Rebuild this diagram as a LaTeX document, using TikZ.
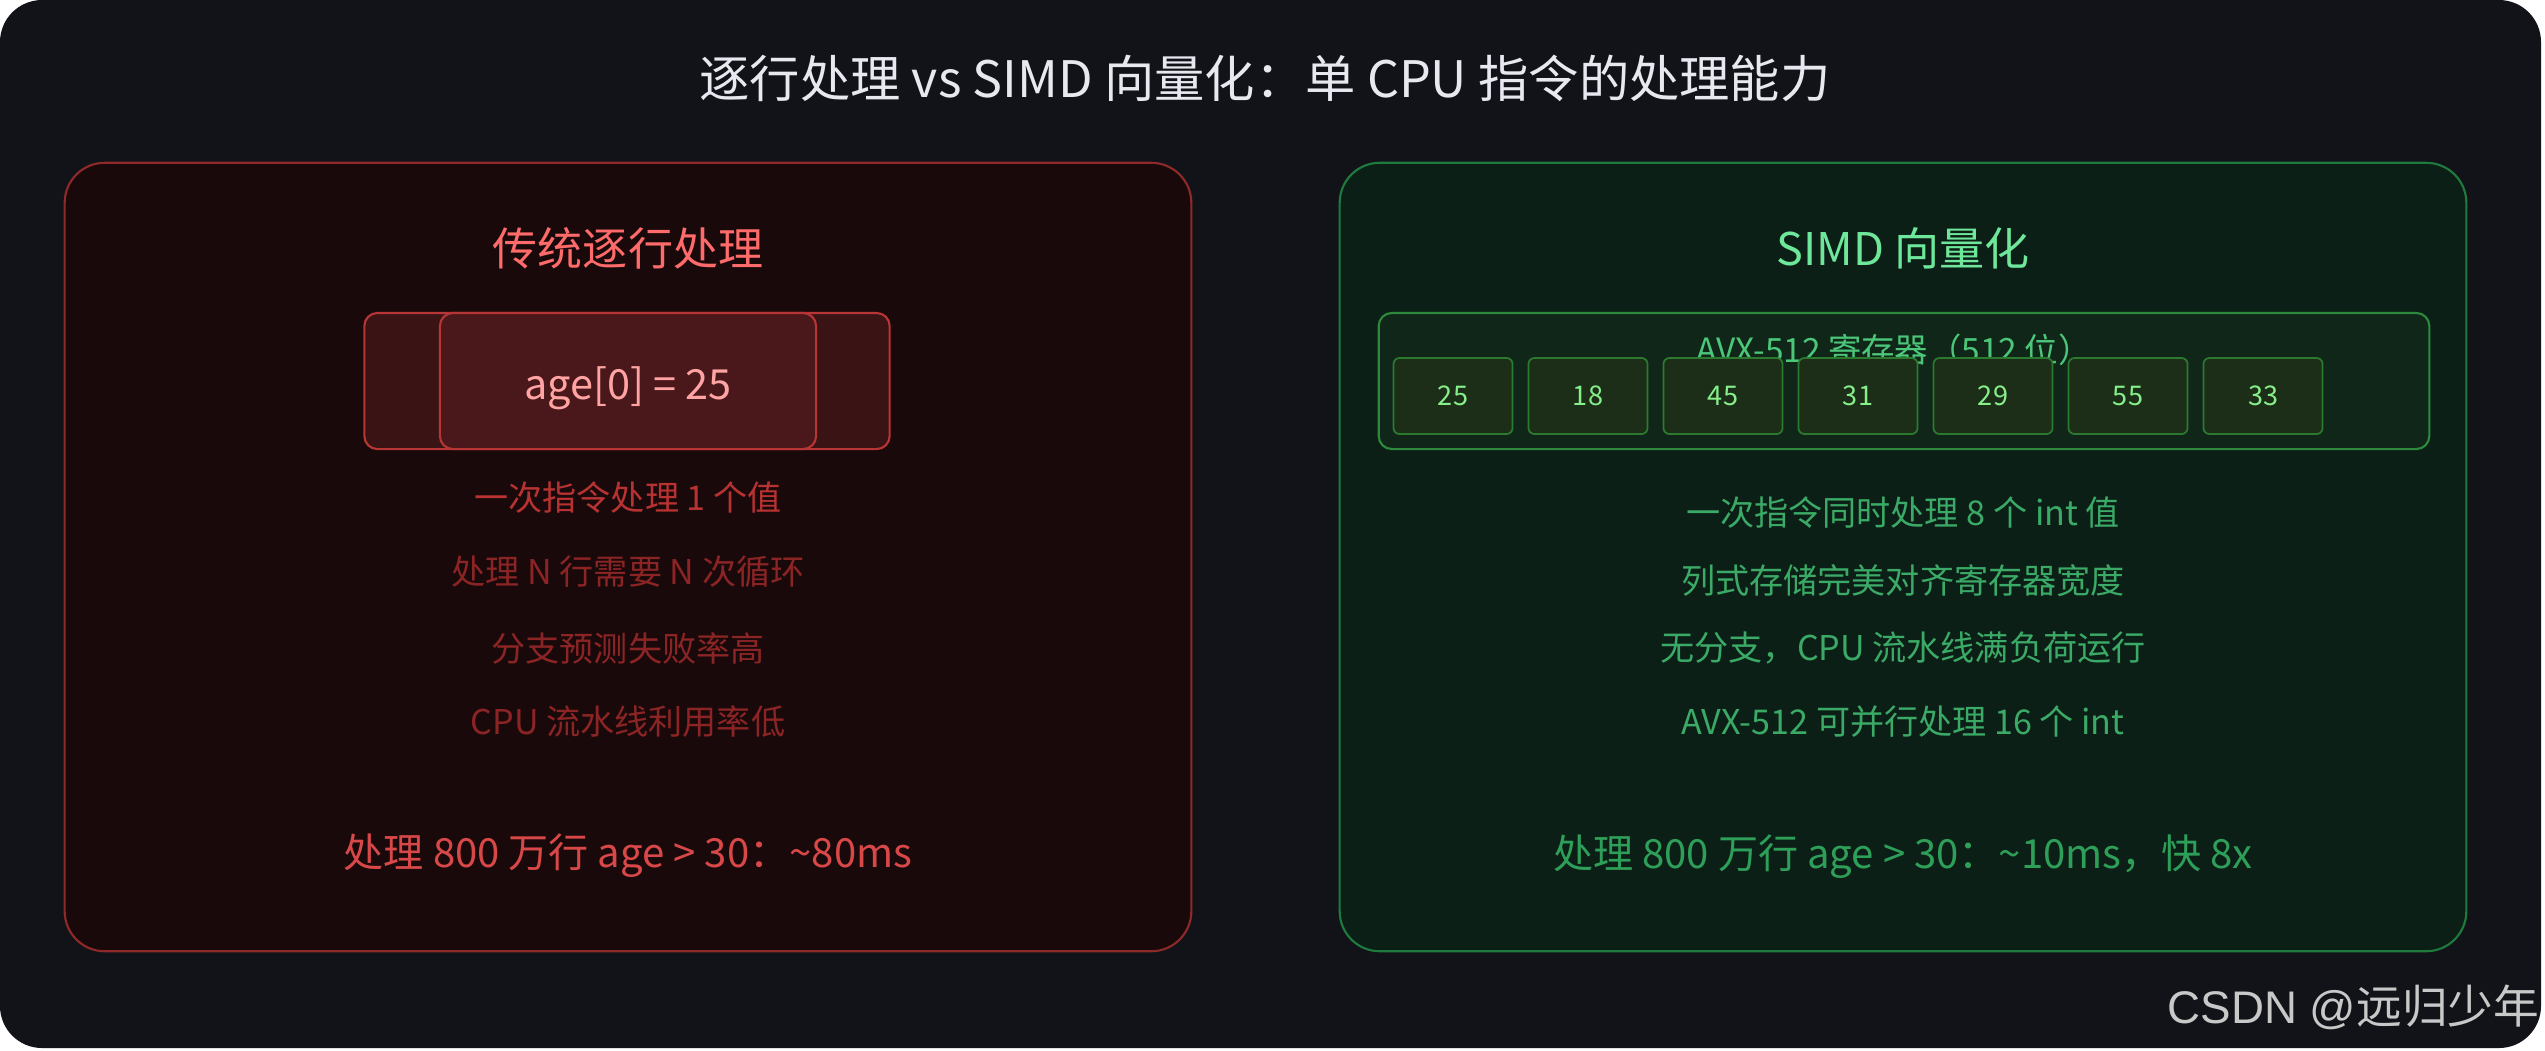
\documentclass[tikz,border=0pt]{standalone}
\usepackage{fontspec}
\setmainfont{Noto Sans CJK SC}
\newfontfamily\wmfont{Liberation Sans}
\definecolor{bgdark}{HTML}{111318}
\definecolor{titletext}{HTML}{E8E8F0}
\definecolor{redfill}{HTML}{1A090A}
\definecolor{redline}{HTML}{8E2A2A}
\definecolor{redtitle}{HTML}{FF6B6B}
\definecolor{redbox}{HTML}{B83535}
\definecolor{redslot}{HTML}{3A1315}
\definecolor{redcell}{HTML}{4A181B}
\definecolor{agetext}{HTML}{FFA3A3}
\definecolor{redtext1}{HTML}{B83232}
\definecolor{redtext2}{HTML}{8B2424}
\definecolor{redfinal}{HTML}{D94848}
\definecolor{greenfill}{HTML}{0C1F17}
\definecolor{greenline}{HTML}{1F7A3E}
\definecolor{greentitle}{HTML}{6EE79A}
\definecolor{regfill}{HTML}{0F2619}
\definecolor{regline}{HTML}{2D8A3D}
\definecolor{reglabel}{HTML}{4CC77A}
\definecolor{cellfill}{HTML}{1C2E18}
\definecolor{cellline}{HTML}{2C7A30}
\definecolor{celltext}{HTML}{86EF8A}
\definecolor{greentext}{HTML}{3AAA66}
\definecolor{greenfinal}{HTML}{2E9F58}
\definecolor{wmtext}{HTML}{C8C8C8}
\begin{document}
\begin{tikzpicture}
      [x=0.01cm,y=-0.01cm,inner sep=0pt,
       panel/.style={rounded corners=0.4cm,line width=0.6pt,minimum width=11.26cm,minimum height=7.88cm},
       heading/.style={font=\fontsize{12.8pt}{15pt}\selectfont},
       remark/.style={font=\fontsize{9.7pt}{12pt}\selectfont},
       result/.style={font=\fontsize{11.4pt}{13pt}\selectfont},
       slot/.style={rectangle,rounded corners=0.13cm,line width=0.6pt,minimum height=1.36cm},
       cell/.style={rectangle,rounded corners=0.06cm,draw=cellline,fill=cellfill,text=celltext,line width=0.5pt,
                    minimum width=1.19cm,minimum height=0.76cm,font=\fontsize{7.7pt}{9pt}\selectfont}]
      \useasboundingbox (0,0) rectangle (2545,1050);
      \fill [white] (0,0) rectangle (2545,1050);
      \fill [bgdark,rounded corners=0.42cm] (0,0) rectangle (2541,1048);
      \node at (1265,78) (title) [text=titletext,font=\fontsize{14.3pt}{17pt}\selectfont]
        {逐行处理 vs SIMD 向量化：单 CPU 指令的处理能力};
      % row by row
      \node at (628,557) (rowpanel) [panel,draw=redline,fill=redfill] {};
      \node at (628,248) (rowhead) [heading,text=redtitle] {传统逐行处理};
      \node at (627,381) (rowslot) [slot,draw=redbox,fill=redslot,minimum width=5.25cm] {};
      \node at (628,381) (agecell) [slot,draw=redbox,fill=redcell,minimum width=3.76cm,text=agetext,
        font=\fontsize{11.8pt}{13pt}\selectfont,text height=12.5pt,text depth=2pt] {age[0] = 25};
      \foreach \t/\y/\c [count=\i] in {一次指令处理 1 个值/498/redtext1,
                                       处理 N 行需要 N 次循环/572/redtext2,
                                       分支预测失败率高/648/redtext2,
                                       CPU 流水线利用率低/721/redtext2}
        \node at (628,\y) (rowtip\i) [remark,text=\c] {\t};
      \node at (628,856) (rowtime) [result,text=redfinal] {处理 800 万行 age > 30：\textasciitilde80ms};
      % simd
      \node at (1903,557) (simdpanel) [panel,draw=greenline,fill=greenfill] {};
      \node at (1903,248) (simdhead) [heading,text=greentitle] {SIMD 向量化};
      \node at (1904,381) (reg) [slot,draw=regline,fill=regfill,minimum width=10.5cm] {};
      \node at (1894,350) (reglabel) [text=reglabel,font=\fontsize{9.5pt}{11pt}\selectfont]
        {AVX-512 寄存器（512 位）};
      \foreach \v [count=\i] in {25,18,45,31,29,55,33}
        \node at ({1453+135*(\i-1)},396) (cell\i) [cell] {\v};
      \foreach \t/\y [count=\i] in {一次指令同时处理 8 个 int 值/513,
                                   列式存储完美对齐寄存器宽度/581,
                                   无分支，CPU 流水线满负荷运行/648,
                                   AVX-512 可并行处理 16 个 int/722}
        \node at (1903,\y) (simdtip\i) [remark,text=greentext] {\t};
      \node at (1903,857) (simdtime) [result,text=greenfinal]
        {处理 800 万行 age > 30：\textasciitilde10ms，快 8x};
      \node at (2540,1007) (mark) [anchor=east,text=wmtext,font=\fontsize{13pt}{15pt}\selectfont]
        {{\wmfont CSDN @}远归少年};
\end{tikzpicture}
\end{document}
